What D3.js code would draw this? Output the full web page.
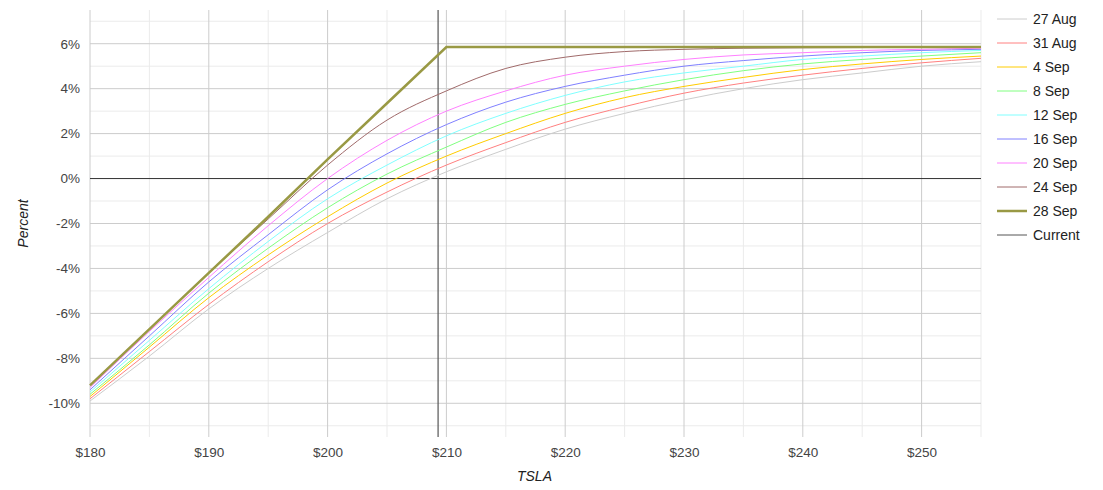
<!DOCTYPE html>
<html><head><meta charset="utf-8">
<script src="https://cdn.jsdelivr.net/npm/d3@7"></script>
<style>body{margin:0;background:#fff;font-family:Arial,"Liberation Sans",sans-serif}</style>
</head><body><div id="chart"></div>
<script>
const prices = [180,185,190,195,200,205,210,215,220,225,230,235,240,245,250,255];
const seriesNames = ['27 Aug','31 Aug','4 Sep','8 Sep','12 Sep','16 Sep','20 Sep','24 Sep','28 Sep'];
const seriesColors = ['#cccccc','#ff8080','#ffcc00','#80ff80','#80ffff','#8080ff','#ff80ff','#a06a6a','#999944'];
const aug27 = [-9.9,-7.9,-5.8,-4.0,-2.4,-0.9,0.3,1.3,2.2,2.9,3.5,4.0,4.4,4.7,5.0,5.2];
const aug31 = [-9.8,-7.7,-5.6,-3.7,-2.0,-0.6,0.6,1.6,2.5,3.2,3.8,4.25,4.6,4.9,5.15,5.35];
const sep4  = [-9.7,-7.5,-5.3,-3.4,-1.7,-0.2,1.0,2.0,2.9,3.6,4.1,4.5,4.85,5.1,5.3,5.45];
const sep8  = [-9.6,-7.4,-5.1,-3.1,-1.3,0.2,1.4,2.5,3.3,3.9,4.4,4.8,5.1,5.3,5.45,5.6];
const sep12 = [-9.5,-7.2,-4.9,-2.8,-0.9,0.6,1.9,2.9,3.7,4.3,4.7,5.0,5.3,5.45,5.6,5.7];
const sep16 = [-9.4,-7.0,-4.6,-2.5,-0.5,1.1,2.4,3.4,4.1,4.6,5.0,5.25,5.45,5.6,5.7,5.75];
const sep20 = [-9.3,-6.8,-4.4,-2.1,0.0,1.7,3.0,3.9,4.6,5.0,5.3,5.5,5.6,5.7,5.75,5.8];
const sep24 = [-9.2,-6.7,-4.2,-1.8,0.6,2.6,3.9,4.9,5.4,5.65,5.75,5.8,5.82,5.83,5.84,5.85];
const sep28 = [-9.2,-6.7,-4.2,-1.7,0.85,3.35,5.85,5.85,5.85,5.85,5.85,5.85,5.85,5.85,5.85,5.85];
const allSeries = [aug27,aug31,sep4,sep8,sep12,sep16,sep20,sep24,sep28];
const currentPrice = 209.3;
const xTicks = [180,190,200,210,220,230,240,250];
const yTicks = [-10,-8,-6,-4,-2,0,2,4,6];

const W = 1103, H = 490;
const margin = {left: 90, right: 122, top: 10, bottom: 53};
const w = W - margin.left - margin.right, h = H - margin.top - margin.bottom;

const svg = d3.select('#chart').append('svg').attr('width', W).attr('height', H);
const g = svg.append('g').attr('transform', `translate(${margin.left},${margin.top})`);

const x = d3.scaleLinear().domain([180, 255]).range([0, w]);
const y = d3.scaleLinear().domain([-11.5, 7.5]).range([h, 0]);

// minor grid
g.selectAll('.vx').data(d3.range(185, 256, 10)).enter().append('line')
  .attr('x1', d => x(d)).attr('x2', d => x(d)).attr('y1', 0).attr('y2', h)
  .attr('stroke', '#ebebeb');
g.selectAll('.hy').data(d3.range(-11, 8, 2)).enter().append('line')
  .attr('x1', 0).attr('x2', w).attr('y1', d => y(d)).attr('y2', d => y(d))
  .attr('stroke', '#ebebeb');
// major grid
g.selectAll('.mx').data(xTicks).enter().append('line')
  .attr('x1', d => x(d)).attr('x2', d => x(d)).attr('y1', 0).attr('y2', h)
  .attr('stroke', '#cccccc');
g.selectAll('.my').data(yTicks.filter(d => d !== 0)).enter().append('line')
  .attr('x1', 0).attr('x2', w).attr('y1', d => y(d)).attr('y2', d => y(d))
  .attr('stroke', '#cccccc');
g.append('line').attr('x1', 0).attr('x2', w).attr('y1', y(0)).attr('y2', y(0)).attr('stroke', '#333');

// axes
const xAxis = g.append('g').attr('transform', `translate(0,${h})`)
  .call(d3.axisBottom(x).tickValues(xTicks).tickFormat(d => '$' + d).tickSize(0).tickPadding(10));
const yAxis = g.append('g')
  .call(d3.axisLeft(y).tickValues(yTicks).tickFormat(d => d + '%').tickSize(0).tickPadding(10));
[xAxis, yAxis].forEach(a => {
  a.select('.domain').remove();
  a.selectAll('text').attr('fill', '#444').style('font-size', '13.5px').style('font-family', 'Arial,"Liberation Sans",sans-serif');
});

svg.append('text').attr('x', margin.left + w / 2 - 1).attr('y', 481).attr('text-anchor', 'middle')
  .attr('font-style', 'italic').attr('font-size', 14).attr('fill', '#222').text('TSLA');
svg.append('text').attr('transform', `translate(28,${margin.top + h / 2}) rotate(-90)`).attr('text-anchor', 'middle')
  .attr('font-style', 'italic').attr('font-size', 14).attr('fill', '#222').text('Percent');

// current
g.append('line').attr('x1', x(currentPrice)).attr('x2', x(currentPrice)).attr('y1', 0).attr('y2', h)
  .attr('stroke', '#555').attr('stroke-width', 1.2);

const line = d3.line().x((d, i) => x(prices[i])).y(d => y(d)).curve(d3.curveMonotoneX);
const lineStraight = d3.line().x((d, i) => x(prices[i])).y(d => y(d));
allSeries.forEach((s, i) => {
  g.append('path').attr('d', i === 8 ? lineStraight(s) : line(s)).attr('fill', 'none')
    .attr('stroke', seriesColors[i]).attr('stroke-width', i === 8 ? 2.5 : 1);
});

// legend
const legNames = seriesNames.concat(['Current']);
const legColors = seriesColors.concat(['#555']);
const leg = svg.selectAll('.leg').data(legNames).enter().append('g')
  .attr('transform', (d, i) => `translate(997,${19 + i * 24})`);
leg.append('line').attr('x1', 0).attr('x2', 30).attr('stroke', (d, i) => legColors[i])
  .attr('stroke-width', (d, i) => i === 8 ? 2.5 : 1);
leg.append('text').attr('x', 36).attr('y', 5).attr('font-size', 14).attr('fill', '#222').text(d => d);
</script></body></html>
